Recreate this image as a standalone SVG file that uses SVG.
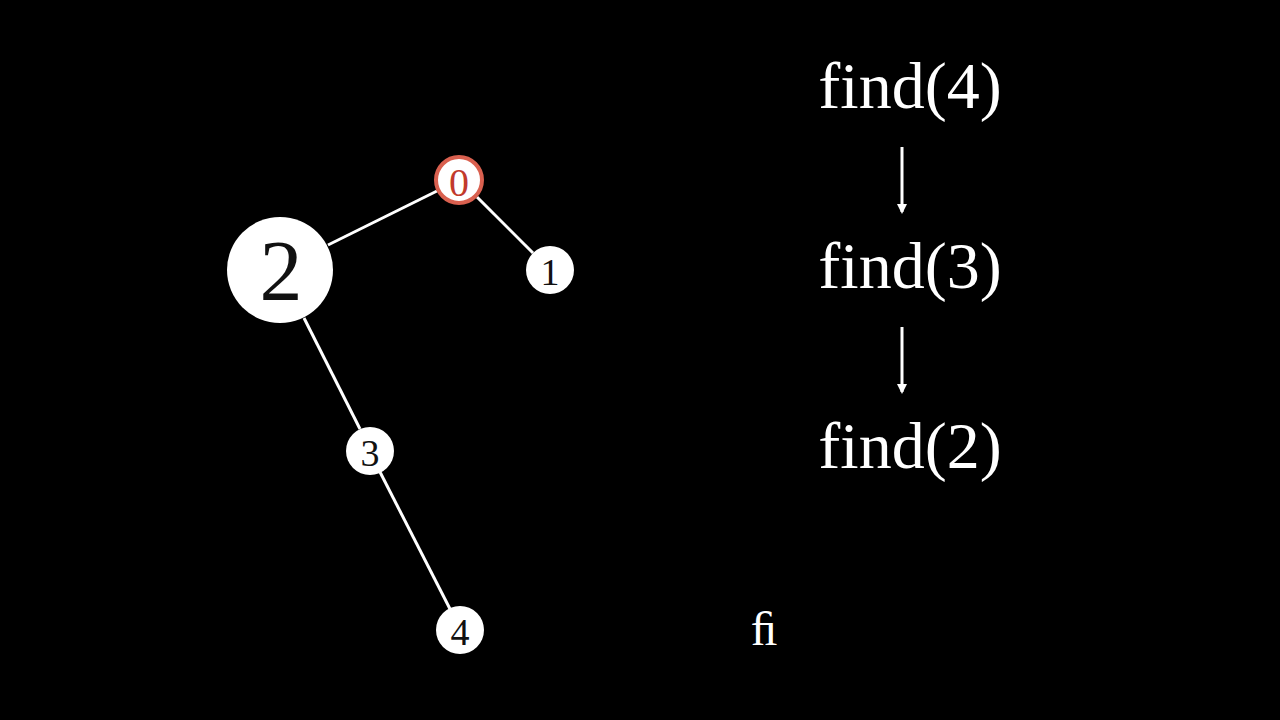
<svg xmlns="http://www.w3.org/2000/svg" width="1280" height="720" viewBox="0 0 1280 720">
<style>
.e{stroke:#fff;stroke-width:3;fill:none}
.n{fill:#fff}
.t{font-family:"Liberation Serif","DejaVu Serif",serif;fill:#111;text-anchor:middle}
.f{font-family:"Liberation Serif","DejaVu Serif",serif;fill:#fff;font-size:66px;text-anchor:middle}
</style>
<defs><marker id="a" markerWidth="10" markerHeight="10" refX="8" refY="5" orient="auto" markerUnits="userSpaceOnUse"><path d="M0,0 L10,5 L0,10 Z" fill="#fff"/></marker></defs>
<rect width="1280" height="720" fill="#000"/>
<g id="connectors">
<line class="e" x1="328" y1="245" x2="437" y2="191"/>
<line class="e" x1="477" y1="197" x2="533" y2="253"/>
<line class="e" x1="304" y1="318" x2="360" y2="429"/>
<line class="e" x1="380" y1="472" x2="450" y2="609"/>
<line stroke="#fff" stroke-width="3" x1="902" y1="147" x2="902" y2="212" marker-end="url(#a)"/>
<line stroke="#fff" stroke-width="3" x1="902" y1="327" x2="902" y2="392" marker-end="url(#a)"/>
</g>
<g id="n0"><circle cx="459" cy="180" r="23" fill="#fff" stroke="#d9604f" stroke-width="4"/><text class="t" x="459" y="196" font-size="40" fill="#c23a2c" style="fill:#c23a2c">0</text></g>
<g id="n1"><circle class="n" cx="550" cy="270" r="24"/><text class="t" x="550" y="285" font-size="38">1</text></g>
<g id="n2"><circle class="n" cx="280" cy="270" r="53"/><text class="t" x="281" y="300" font-size="86">2</text></g>
<g id="n3"><circle class="n" cx="370" cy="451" r="24"/><text class="t" x="370" y="466" font-size="38">3</text></g>
<g id="n4"><circle class="n" cx="460" cy="630" r="24"/><text class="t" x="460" y="645" font-size="38">4</text></g>
<g id="labels">
<text class="f" x="910" y="108">find(4)</text>
<text class="f" x="910" y="288">find(3)</text>
<text class="f" x="910" y="468">find(2)</text>
<text x="764" y="645" font-family="Liberation Serif,serif" font-size="48" fill="#fff" text-anchor="middle">ﬁ</text>
</g>
</svg>
